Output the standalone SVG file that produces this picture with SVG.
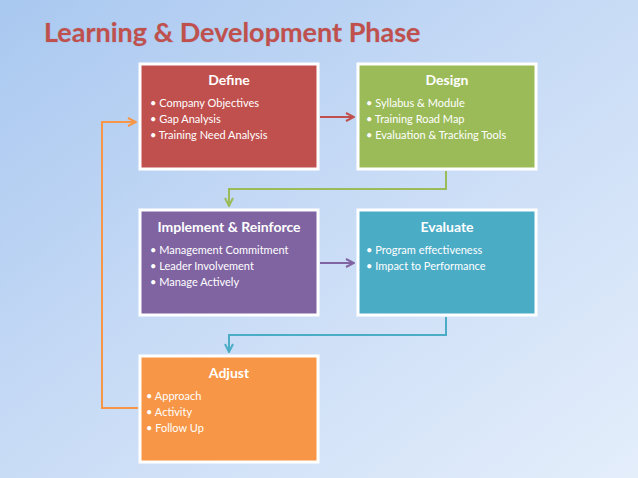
<svg xmlns="http://www.w3.org/2000/svg" width="638" height="478" viewBox="0 0 638 478">
<defs>
<linearGradient id="bg" x1="0" y1="0" x2="1" y2="1"><stop offset="0" stop-color="#a9c8f0"/><stop offset="0.5" stop-color="#c9dcf6"/><stop offset="1" stop-color="#e4eefb"/></linearGradient>
<marker id="ar" viewBox="0 0 10 10" refX="9" refY="5" markerWidth="5" markerHeight="5" orient="auto" markerUnits="userSpaceOnUse"><path d="M1,1 L9,5 L1,9" fill="none" stroke="context-stroke" stroke-width="2"/></marker>
<marker id="a1" viewBox="0 0 10 10" refX="9" refY="5" markerWidth="10" markerHeight="10" orient="auto" markerUnits="userSpaceOnUse"><path d="M1,1 L9,5 L1,9" fill="none" stroke="#c0504d" stroke-width="2"/></marker>
<marker id="a2" viewBox="0 0 10 10" refX="9" refY="5" markerWidth="10" markerHeight="10" orient="auto" markerUnits="userSpaceOnUse"><path d="M1,1 L9,5 L1,9" fill="none" stroke="#9bbb59" stroke-width="2"/></marker>
<marker id="a3" viewBox="0 0 10 10" refX="9" refY="5" markerWidth="10" markerHeight="10" orient="auto" markerUnits="userSpaceOnUse"><path d="M1,1 L9,5 L1,9" fill="none" stroke="#8064a2" stroke-width="2"/></marker>
<marker id="a4" viewBox="0 0 10 10" refX="9" refY="5" markerWidth="10" markerHeight="10" orient="auto" markerUnits="userSpaceOnUse"><path d="M1,1 L9,5 L1,9" fill="none" stroke="#4bacc6" stroke-width="2"/></marker>
<marker id="a5" viewBox="0 0 10 10" refX="9" refY="5" markerWidth="10" markerHeight="10" orient="auto" markerUnits="userSpaceOnUse"><path d="M1,1 L9,5 L1,9" fill="none" stroke="#f79646" stroke-width="2"/></marker>
</defs>
<style>
.box{stroke:#fff;stroke-width:3}
.h{font-family:Lato,"Liberation Sans",sans-serif;font-weight:bold;font-size:14px;fill:#fff;text-anchor:middle}
.t{font-family:Lato,"Liberation Sans",sans-serif;font-size:11px;fill:#fff}
.c{fill:none;stroke-width:2}
</style>
<rect width="638" height="478" fill="url(#bg)"/>
<text x="44" y="42" font-family="Lato,'Liberation Sans',sans-serif" font-weight="bold" font-size="27" fill="#c0504d" style="paint-order:stroke" stroke="#8a8a8a" stroke-opacity="0.25" stroke-width="1">Learning &amp; Development Phase</text>
<g id="connectors">
<path class="c" stroke="#c0504d" d="M320,117 H354" marker-end="url(#a1)"/>
<path class="c" stroke="#9bbb59" d="M446,171 V189 H229 V206" marker-end="url(#a2)"/>
<path class="c" stroke="#8064a2" d="M320,263 H354" marker-end="url(#a3)"/>
<path class="c" stroke="#4bacc6" d="M446,317 V335 H229 V352" marker-end="url(#a4)"/>
<path class="c" stroke="#f79646" d="M138,408 H102 V122 H136" marker-end="url(#a5)"/>
</g>
<g id="define"><rect class="box" x="140" y="64" width="178" height="105" fill="#c0504d"/>
<text class="h" x="229" y="85">Define</text>
<text class="t" x="150" y="107">• Company Objectives</text><text class="t" x="150" y="123">• Gap Analysis</text><text class="t" x="150" y="139">• Training Need Analysis</text></g>
<g id="design"><rect class="box" x="358" y="64" width="178" height="105" fill="#9bbb59"/>
<text class="h" x="447" y="85">Design</text>
<text class="t" x="366" y="107">•  Syllabus &amp; Module</text><text class="t" x="366" y="123">•  Training Road Map</text><text class="t" x="366" y="139">•  Evaluation &amp; Tracking  Tools</text></g>
<g id="implement"><rect class="box" x="140" y="210" width="178" height="105" fill="#8064a2"/>
<text class="h" x="229" y="232">Implement &amp; Reinforce</text>
<text class="t" x="150" y="254">•  Management Commitment</text><text class="t" x="150" y="270">•  Leader Involvement</text><text class="t" x="150" y="286">•  Manage Actively</text></g>
<g id="evaluate"><rect class="box" x="358" y="210" width="178" height="105" fill="#4bacc6"/>
<text class="h" x="447" y="232">Evaluate</text>
<text class="t" x="366" y="254">• Program effectiveness</text><text class="t" x="366" y="270">• Impact to Performance</text></g>
<g id="adjust"><rect class="box" x="140" y="356" width="178" height="106" fill="#f79646"/>
<text class="h" x="229" y="378">Adjust</text>
<text class="t" x="146" y="400">• Approach</text><text class="t" x="146" y="416">•  Activity</text><text class="t" x="146" y="432">•  Follow Up</text></g>
</svg>
